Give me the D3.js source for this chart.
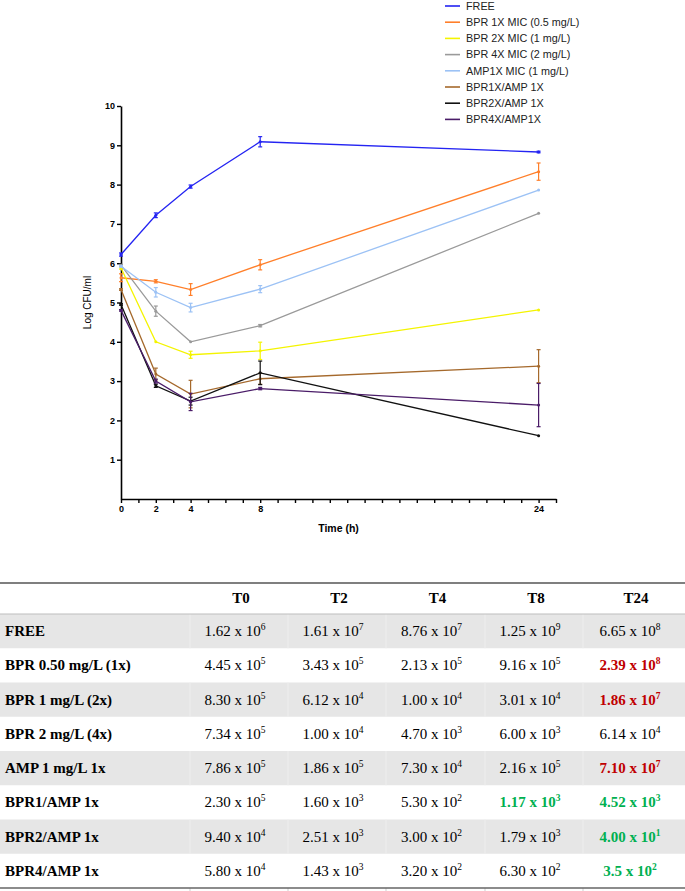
<!DOCTYPE html>
<html><head><meta charset="utf-8">
<script src="https://cdn.jsdelivr.net/npm/d3@7/dist/d3.min.js"></script>
<style>body{margin:0;background:#fff}svg{display:block}</style>
</head><body><svg id="c" width="685" height="891"></svg>
<script>
// ---------- chart data ----------
const times = [0, 2, 4, 8, 24];
const xTickLabels = [0, 2, 4, 8, 24];
const yTickValues = [1, 2, 3, 4, 5, 6, 7, 8, 9, 10];
const seriesNames = ["FREE", "BPR 1X MIC (0.5 mg/L)", "BPR 2X MIC (1 mg/L)", "BPR 4X MIC (2 mg/L)",
  "AMP1X MIC (1 mg/L)", "BPR1X/AMP 1X", "BPR2X/AMP 1X", "BPR4X/AMP1X"];
const seriesColors = ["#2424f2", "#ff7f2a", "#f4f400", "#9a9a9a", "#9cc2f5", "#a5692c", "#111111", "#4a1c68"];
const freeVals   = [6.22, 7.22, 7.95, 9.09, 8.83];
const freeErr    = [0.04, 0.06, 0.04, 0.13, 0.02];
const bpr1Vals   = [5.63, 5.54, 5.33, 5.96, 8.33];
const bpr1Err    = [0.10, 0.04, 0.15, 0.13, 0.22];
const bpr2Vals   = [5.88, 4.00, 3.67, 3.77, 4.81];
const bpr2Err    = [0.03, 0.00, 0.09, 0.22, 0.00];
const bpr4Vals   = [5.95, 4.78, 4.00, 4.41, 7.27];
const bpr4Err    = [0.02, 0.13, 0.00, 0.03, 0.00];
const ampVals    = [5.92, 5.26, 4.87, 5.34, 7.86];
const ampErr     = [0.02, 0.12, 0.11, 0.09, 0.00];
const bpr1AmpVals = [5.33, 3.18, 2.67, 3.06, 3.38];
const bpr1AmpErr  = [0.02, 0.15, 0.35, 0.14, 0.42];
const bpr2AmpVals = [4.95, 2.88, 2.49, 3.21, 1.61];
const bpr2AmpErr  = [0.02, 0.04, 0.10, 0.30, 0.00];
const bpr4AmpVals = [4.80, 3.00, 2.47, 2.81, 2.39];
const bpr4AmpErr  = [0.02, 0.05, 0.22, 0.03, 0.55];

// ---------- table data ----------
const colHeaders = ["T0", "T2", "T4", "T8", "T24"];
const rowLabels = ["FREE", "BPR 0.50 mg/L (1x)", "BPR 1 mg/L (2x)", "BPR 2 mg/L (4x)",
  "AMP 1 mg/L 1x", "BPR1/AMP 1x", "BPR2/AMP 1x", "BPR4/AMP 1x"];
const mantissas = [
  ["1.62", "1.61", "8.76", "1.25", "6.65"],
  ["4.45", "3.43", "2.13", "9.16", "2.39"],
  ["8.30", "6.12", "1.00", "3.01", "1.86"],
  ["7.34", "1.00", "4.70", "6.00", "6.14"],
  ["7.86", "1.86", "7.30", "2.16", "7.10"],
  ["2.30", "1.60", "5.30", "1.17", "4.52"],
  ["9.40", "2.51", "3.00", "1.79", "4.00"],
  ["5.80", "1.43", "3.20", "6.30", "3.5"]
];
const exponents = [
  [6, 7, 7, 9, 8],
  [5, 5, 5, 5, 8],
  [5, 4, 4, 4, 7],
  [5, 4, 3, 3, 4],
  [5, 5, 4, 5, 7],
  [5, 3, 2, 3, 3],
  [4, 3, 2, 3, 1],
  [4, 3, 2, 2, 2]
];
const highlights = [
  ["", "", "", "", ""],
  ["", "", "", "", "r"],
  ["", "", "", "", "r"],
  ["", "", "", "", ""],
  ["", "", "", "", "r"],
  ["", "", "", "g", "g"],
  ["", "", "", "", "g"],
  ["", "", "", "", "g"]
];

const seriesVals = [freeVals, bpr1Vals, bpr2Vals, bpr4Vals, ampVals, bpr1AmpVals, bpr2AmpVals, bpr4AmpVals];
const seriesErr = [freeErr, bpr1Err, bpr2Err, bpr4Err, ampErr, bpr1AmpErr, bpr2AmpErr, bpr4AmpErr];

const svg = d3.select("#c");
const x = d3.scaleLinear().domain([0, 25]).range([121, 556]);
const y = d3.scaleLinear().domain([0, 10]).range([499, 106]);

const sans = "'Liberation Sans', Arial, sans-serif";
const serif = "'Liberation Serif', 'Times New Roman', serif";

// axes
const yAxis = d3.axisLeft(y).tickValues(yTickValues).tickSize(4).tickSizeOuter(0).tickPadding(2);
const gy = svg.append("g").attr("transform", `translate(${x(0)},0)`).call(yAxis);
const xAxis = d3.axisBottom(x).tickValues(d3.range(0, 26)).tickSize(4).tickSizeOuter(0).tickPadding(3)
  .tickFormat(d => xTickLabels.includes(d) ? d : "");
const gx = svg.append("g").attr("transform", `translate(0,${y(0)})`).call(xAxis);
[gx, gy].forEach(g => {
  g.selectAll("path.domain").attr("stroke", "#000").attr("stroke-width", 1.6);
  g.selectAll(".tick line").attr("stroke", "#000").attr("stroke-width", 1.4);
  g.selectAll(".tick text").attr("fill", "#000").attr("font-family", sans).attr("font-size", 9).attr("font-weight", "bold");
});

svg.append("text").attr("transform", `translate(91,${(y(0) + y(10)) / 2}) rotate(-90)`)
  .attr("text-anchor", "middle").attr("font-family", sans).attr("font-size", 10)
  .attr("fill", "#000").text("Log CFU/ml");
svg.append("text").attr("x", (x(0) + x(25)) / 2).attr("y", 532).attr("text-anchor", "middle")
  .attr("font-family", sans).attr("font-size", 10.5).attr("font-weight", "bold").attr("fill", "#000").text("Time (h)");

// series
const line = d3.line().x(d => x(d[0])).y(d => y(d[1]));
seriesVals.forEach((vals, i) => {
  const col = seriesColors[i];
  const pts = times.map((t, j) => [t, vals[j], seriesErr[i][j]]);
  const g = svg.append("g");
  g.append("path").datum(pts).attr("d", line).attr("fill", "none").attr("stroke", col).attr("stroke-width", 1.3);
  pts.forEach(p => {
    if (p[2] > 0.01) {
      const cx = x(p[0]), y1 = y(p[1] - p[2]), y2 = y(p[1] + p[2]);
      g.append("line").attr("x1", cx).attr("x2", cx).attr("y1", y1).attr("y2", y2).attr("stroke", col).attr("stroke-width", 1.2);
      [y1, y2].forEach(yy => g.append("line").attr("x1", cx - 2).attr("x2", cx + 2).attr("y1", yy).attr("y2", yy)
        .attr("stroke", col).attr("stroke-width", 1.2));
    }
    g.append("circle").attr("cx", x(p[0])).attr("cy", y(p[1])).attr("r", 1.5).attr("fill", col);
  });
});

// legend
const leg = svg.append("g");
seriesNames.forEach((n, i) => {
  const ly = 6 + i * 16.2;
  leg.append("line").attr("x1", 445).attr("x2", 460).attr("y1", ly).attr("y2", ly)
    .attr("stroke", seriesColors[i]).attr("stroke-width", 1.6);
  leg.append("text").attr("x", 466).attr("y", ly + 3.8).attr("font-family", sans).attr("font-size", 10.8)
    .attr("fill", "#222").text(n);
});

// table
const colSep = [190, 288, 386, 485, 583, 685];
const colCenters = colHeaders.map((_, j) => (colSep[j] + colSep[j + 1]) / 2);
const rowY = d3.scaleLinear().domain([0, rowLabels.length]).range([614, 888]);
const rowH = rowY(1) - rowY(0);
const tb = svg.append("g");
rowLabels.forEach((r, i) => {
  if (i % 2 === 0) tb.append("rect").attr("x", 0).attr("y", rowY(i)).attr("width", 685).attr("height", rowH).attr("fill", "#e6e6e6");
});
colSep.slice(0, 5).forEach(cx => {
  rowLabels.forEach((r, i) => {
    if (i % 2 === 0) tb.append("line").attr("x1", cx).attr("x2", cx).attr("y1", rowY(i)).attr("y2", rowY(i + 1))
      .attr("stroke", "#eeeeee").attr("stroke-width", 1);
  });
  tb.append("line").attr("x1", cx).attr("x2", cx).attr("y1", 888).attr("y2", 891).attr("stroke", "#cfcfcf").attr("stroke-width", 1);
});
tb.append("line").attr("x1", 0).attr("x2", 685).attr("y1", 583).attr("y2", 583).attr("stroke", "#555").attr("stroke-width", 1.5);
tb.append("line").attr("x1", 0).attr("x2", 685).attr("y1", 614).attr("y2", 614).attr("stroke", "#bdbdbd").attr("stroke-width", 1);
tb.append("line").attr("x1", 0).attr("x2", 685).attr("y1", 888).attr("y2", 888).attr("stroke", "#666").attr("stroke-width", 1.5);

colHeaders.forEach((h, j) => {
  tb.append("text").attr("x", colCenters[j] + 2).attr("y", 603).attr("text-anchor", "middle")
    .attr("font-family", serif).attr("font-size", 15).attr("font-weight", "bold").attr("fill", "#000").text(h);
});
rowLabels.forEach((r, i) => {
  const by = rowY(i) + 22;
  tb.append("text").attr("x", 5).attr("y", by).attr("font-family", serif).attr("font-size", 15)
    .attr("font-weight", "bold").attr("fill", "#000").text(r);
  mantissas[i].forEach((m, j) => {
    const hl = highlights[i][j];
    const t = tb.append("text").attr("x", colCenters[j] - 4).attr("y", by).attr("text-anchor", "middle")
      .attr("font-family", serif).attr("font-size", 15)
      .attr("font-weight", hl ? "bold" : "normal")
      .attr("fill", hl === "r" ? "#c00000" : hl === "g" ? "#00b050" : "#000");
    t.append("tspan").text(m + " x 10");
    t.append("tspan").attr("dy", -6).attr("font-size", 9.5).text(exponents[i][j]);
  });
});
</script></body></html>
